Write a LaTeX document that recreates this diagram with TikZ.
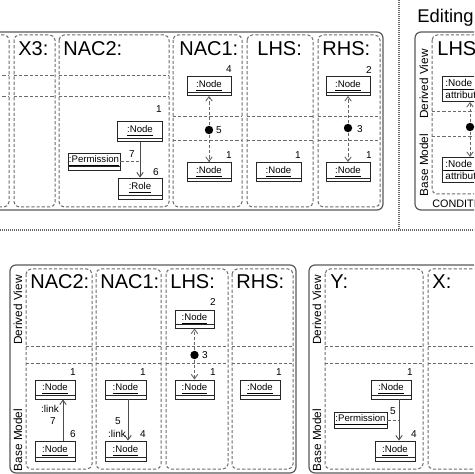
\documentclass[tikz,border=0pt]{standalone}
\usepackage{fontspec}
\setmainfont{Liberation Sans}
\usetikzlibrary{arrows.meta,calc}
\begin{document}
\begin{tikzpicture}[x=0.5pt,y=-0.5pt,
  panel/.style={draw=black!65, line width=0.6pt, rounded corners=3pt},
  col/.style={draw=black!58, line width=0.5pt, dash pattern=on 1.6pt off 1pt, rounded corners=2.5pt},
  divl/.style={draw=black!58, line width=0.5pt, dash pattern=on 1.6pt off 1pt},
  sepline/.style={draw=black!60, line width=0.55pt, dash pattern=on 0.45pt off 0.55pt},
  title/.style={anchor=base west, font=\fontsize{10}{12}\selectfont, inner sep=0pt},
  bigtitle/.style={anchor=base west, font=\fontsize{9.2}{11}\selectfont, inner sep=0pt},
  vlab/.style={rotate=90, font=\fontsize{5.9}{6.5}\selectfont, inner sep=0pt},
  smalltxt/.style={font=\fontsize{5.4}{6}\selectfont, inner sep=0pt},
  num/.style={font=\fontsize{5}{6}\selectfont, inner sep=0pt},
  obj/.style={draw=black!85, fill=white, line width=0.45pt, inner sep=0pt,
    font=\fontsize{4.8}{5}\selectfont,
    path picture={\draw[black!85,line width=0.4pt]
      ([yshift=1.6pt]path picture bounding box.south west) --
      ([yshift=1.6pt]path picture bounding box.south east);}},
  obj2/.style={draw=black!85, fill=white, line width=0.45pt, inner xsep=1.2pt, inner ysep=0.6pt,
    anchor=north west, minimum width=30pt, minimum height=12.5pt, text width=27pt, align=left,
    font=\fontsize{5}{6.3}\selectfont,
    path picture={\draw[black!85,line width=0.4pt]
      (path picture bounding box.west) -- (path picture bounding box.east);}},
  dotn/.style={circle, fill=black, inner sep=0pt, minimum size=4.2pt},
  link/.style={draw=black!70, line width=0.45pt, -{Straight Barb[length=2.2pt,width=3.2pt]}},
  linkd/.style={draw=black!60, line width=0.45pt, dash pattern=on 1.6pt off 1pt},
  corr/.style={draw=black!60, line width=0.45pt, dash pattern=on 1.6pt off 1pt, -{Straight Barb[length=2.2pt,width=3.2pt]}},
]
\useasboundingbox (0,0) rectangle (474,474);
\clip (0,0) rectangle (474,474);

% separators
\draw[sepline] (0,230) -- (474,230);
\draw[sepline] (399,0) -- (399,230);

% ================= top-left panel =================
\draw[panel] (-60,32) rectangle (383,210);
\foreach \l/\r/\a/\b in {-60/9/76/97, 14/55/76/97, 59/169/76/97, 173/242/117/141, 247/313/117/141, 318/380/117/141}{
  \draw[col] (\l,35) rectangle (\r,207);
  \draw[divl] (\l,\a) -- (\r,\a);
  \draw[divl] (\l,\b) -- (\r,\b);
}
\node[title] (tX3) at (18,56) {X3:};
\node[title] (tNACtwo) at (63,56) {NAC2:};
\node[title] (tNACone) at (179,56) {NAC1:};
\node[title] (tLHS) at (257,56) {LHS:};
\node[title] (tRHS) at (322,56) {RHS:};

% NAC2
\node[obj, minimum width=22.5pt, minimum height=10pt] (a1) at (140,131.5) {\underline{:Node}};
\node[obj, minimum width=26pt, minimum height=8.5pt] (a2) at (94,161.5) {\underline{:Permission}};
\node[obj, minimum width=22pt, minimum height=10.5pt] (a3) at (140,188.5) {\underline{:Role}};
\draw[link] (a1) -- (a3);
\draw[linkd] (a2.east) -- (a2.east -| a1.south);
\node[num] (na1) at (159,109) {1};
\node[num] (na2) at (132,154) {7};
\node[num] (na3) at (156,172) {6};

% NAC1
\node[obj, minimum width=22pt, minimum height=9.5pt] (b1) at (209,86) {\underline{:Node}};
\node[obj, minimum width=22pt, minimum height=9.5pt] (b2) at (209,172) {\underline{:Node}};
\node[dotn] (bd) at (209,130) {};
\draw[corr] (bd) -- (b1);
\draw[corr] (bd) -- (b2);
\node[num] (nb1) at (229,69) {4};
\node[num] (nb2) at (229,155) {1};
\node[num] (nb3) at (219,130) {5};

% LHS
\node[obj, minimum width=22.5pt, minimum height=9.5pt] (c0) at (278.5,172) {\underline{:Node}};
\node[num] (nc0) at (298,155) {1};

% RHS
\node[obj, minimum width=22pt, minimum height=9.5pt] (r1) at (348,86) {\underline{:Node}};
\node[obj, minimum width=22pt, minimum height=9.5pt] (r2) at (348,172) {\underline{:Node}};
\node[dotn] (rd) at (348,128) {};
\draw[corr] (rd) -- (r1);
\draw[corr] (rd) -- (r2);
\node[num] (nr1) at (369,70) {2};
\node[num] (nr2) at (369,155) {1};
\node[num] (nr3) at (360,129) {3};

% ================= editing panel =================
\node[bigtitle] (edt) at (417,23) {Editing};
\draw[panel] (415,32) rectangle (560,210);
\draw[col] (432,35) rectangle (550,194);
\draw[divl] (432,112) -- (550,112);
\draw[divl] (432,137) -- (550,137);
\node[title] (eLHS) at (437,56) {LHS:};
\node[vlab] (ev1) at (424,84) {Derived View};
\node[vlab] (ev2) at (424,165) {Base Model};
\node[obj2] (e1) at (442,76) {\underline{:Node}\\attribute};
\node[obj2] (e2) at (442,157) {\underline{:Node}\\attribute};
\node[dotn] (ed) at (470,127) {};
\draw[corr] (ed) -- (ed |- e1.south);
\draw[corr] (ed) -- (ed |- e2.north);
\node[smalltxt, anchor=west] (econd) at (432,204) {CONDITION};

% ================= bottom-left panel =================
\draw[panel] (10,265) rectangle (296,473);
\foreach \l/\r in {26/92, 96/161, 166/228, 232/293}{
  \draw[col] (\l,269) rectangle (\r,469);
  \draw[divl] (\l,346) -- (\r,346);
  \draw[divl] (\l,363) -- (\r,363);
}
\node[title] (u1) at (30,289) {NAC2:};
\node[title] (u2) at (100,289) {NAC1:};
\node[title] (u3) at (170,289) {LHS:};
\node[title] (u4) at (236,289) {RHS:};
\node[vlab] (uv1) at (18,310) {Derived View};
\node[vlab] (uv2) at (18,440) {Base Model};

\node[obj, minimum width=20pt, minimum height=9.5pt] (c1) at (55,389.5) {\underline{:Node}};
\node[obj, minimum width=20pt, minimum height=10pt] (c2) at (55,451) {\underline{:Node}};
\draw[link] ($(c2.north)+(8,0)$) -- ($(c1.south)+(8,0)$);
\node[num] (lk1) at (50,409) {:link};
\node[num] (m1) at (53,421) {7};
\node[num] (m2) at (73,372) {1};
\node[num] (m3) at (73,434) {6};

\node[obj, minimum width=20.5pt, minimum height=9.5pt] (c3) at (125.5,389.5) {\underline{:Node}};
\node[obj, minimum width=20.5pt, minimum height=10pt] (c4) at (125.5,451) {\underline{:Node}};
\draw[link] ($(c3.south)+(2.5,0)$) -- ($(c4.north)+(2.5,0)$);
\node[num] (lk2) at (117,434) {:link};
\node[num] (m4) at (118,421) {5};
\node[num] (m5) at (143,372) {1};
\node[num] (m6) at (143,434) {4};

\node[obj, minimum width=19.5pt, minimum height=9pt] (c5) at (194.5,319) {\underline{:Node}};
\node[obj, minimum width=19.5pt, minimum height=9.5pt] (c6) at (194.5,389.5) {\underline{:Node}};
\node[dotn] (cd) at (194.5,355) {};
\draw[corr] (cd) -- (c5);
\draw[corr] (cd) -- (c6);
\node[num] (m7) at (213,302) {2};
\node[num] (m8) at (205,355) {3};
\node[num] (m9) at (213,372) {1};

\node[obj, minimum width=20pt, minimum height=9.5pt] (c7) at (260,389.5) {\underline{:Node}};
\node[num] (m10) at (279,372) {1};

% ================= bottom-right panel =================
\draw[panel] (309,265) rectangle (560,473);
\foreach \l/\r in {325/423, 428/550}{
  \draw[col] (\l,269) rectangle (\r,469);
  \draw[divl] (\l,346) -- (\r,346);
  \draw[divl] (\l,363) -- (\r,363);
}
\node[title] (w1) at (330,289) {Y:};
\node[title] (w2) at (432,289) {X:};
\node[vlab] (wv1) at (317,310) {Derived View};
\node[vlab] (wv2) at (317,440) {Base Model};

\node[obj, minimum width=20pt, minimum height=9.5pt] (d1) at (391,389.5) {\underline{:Node}};
\node[obj, minimum width=20pt, minimum height=10pt] (d2) at (395,451) {\underline{:Node}};
\node[obj, minimum width=26.5pt, minimum height=8pt] (dp) at (360.5,420) {\underline{:Permission}};
\draw[link] ($(d1.south)+(8,0)$) -- ($(d2.north)+(4,0)$);
\draw[linkd] (dp.east) -- ($(dp.east -| d1.south)+(8,0)$);
\node[num] (m11) at (410,372) {1};
\node[num] (m12) at (414,434) {4};
\node[num] (m13) at (393,411) {5};

\end{tikzpicture}
\end{document}
